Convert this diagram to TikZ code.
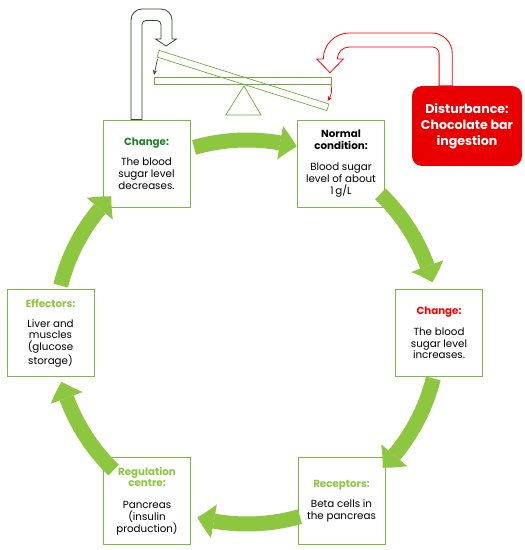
\documentclass[tikz,border=0pt]{standalone}
\usepackage{fontspec}
\setmainfont{Poppins}
\usetikzlibrary{arrows.meta,bending,calc}
\definecolor{boxgreen}{RGB}{122,182,72}
\definecolor{arrgreen}{RGB}{141,198,63}
\definecolor{ltgreen}{RGB}{141,198,63}
\definecolor{dkgreen}{RGB}{30,128,40}
\definecolor{pipedark}{RGB}{55,70,40}
\definecolor{distred}{RGB}{232,0,0}
\definecolor{txtred}{RGB}{255,0,0}
\definecolor{sawgreen}{RGB}{110,170,60}
\tikzset{
  box/.style={draw=boxgreen, line width=0.8pt, minimum width=87pt, minimum height=87pt,
    inner sep=0pt, align=center, font=\fontsize{10.3}{11.8}\selectfont},
  garrow/.style={draw=arrgreen, line width=15pt, line cap=butt,
    -{Triangle[width=34pt,length=17pt,line width=0pt,bend]}},
  pipe/.style={line width=0.8pt, fill=white},
  saw/.style={draw=sawgreen, line width=0.7pt},
  distbox/.style={fill=distred, rounded corners=10pt, minimum width=110pt, minimum height=80pt,
    inner sep=0pt, align=center, text=white, font=\fontsize{12.6}{16}\selectfont\bfseries}
}
\begin{document}
\begin{tikzpicture}[x=1pt,y=1pt]
\useasboundingbox (0,0) rectangle (525,550);
\fill[white] (0,0) rectangle (525,550);

% boxes
\node[box] (chgL) at (146.5,386.5) {\textcolor{dkgreen}{\bfseries Change:}\\[9pt]The blood\\sugar level\\decreases.};
\node[box] (normal) at (341,386.5) {{\bfseries Normal}\\{\bfseries condition:}\\[10pt]Blood sugar\\level of about\\1\,g/L};
\node[box] (chgR) at (439,217) {\textcolor{txtred}{\bfseries Change:}\\[9pt]The blood\\sugar level\\increases.};
\node[box] (eff) at (50.5,217) {\textcolor{ltgreen}{\bfseries Effectors:}\\[8pt]Liver and\\muscles\\(glucose\\storage)};
\node[box] (reg) at (147,49) {\textcolor{ltgreen}{\bfseries Regulation}\\\textcolor{ltgreen}{\bfseries centre:}\\[10pt]Pancreas\\(insulin\\production)};
\node[box] (rec) at (341.5,49) {\textcolor{ltgreen}{\bfseries Receptors:}\\[8pt]Beta cells in\\the pancreas};
\node[distbox] (dist) at (467,424) {Disturbance:\\Chocolate bar\\ingestion};

% cycle arrows
\coordinate (C) at (247,218);
\foreach \c [evaluate=\c as \a using \c+16, evaluate=\c as \b using \c-15] in {90,30,-30,-90,-150,150}
  \draw[garrow] ($(C)+(\a:192)$) arc[start angle=\a, end angle=\b, radius=192];

% seesaw
\coordinate (piv) at (243,469.5);
\draw[saw] ($(piv)+(-88.5,-3.5)$) rectangle ($(piv)+(88.5,3.5)$);
\draw[saw, rotate around={-17.5:(piv)}] ($(piv)+(-89,-3.5)$) rectangle ($(piv)+(89,3.5)$);
\draw[saw] (244,464) -- (225.7,435) -- (261,435) -- cycle;

% small rotation arrows
\coordinate (tl) at (157.5,491);
\coordinate (hl) at (154,475);
\draw[pipedark, line width=0.7pt, -{Stealth[length=5pt,width=4pt]}] (tl) -- (hl);
\coordinate (hr) at (331,465);
\coordinate (tr) at (327.5,449);
\draw[txtred, line width=0.7pt, -{Stealth[length=5pt,width=4pt]}] (hr) to[bend left=25] (tr);

% dark feedback pipe from chgL to seesaw
\draw[pipe, draw=pipedark] ($(chgL.north)+(-15.5,0)$) -- (131,530) arc[start angle=180, end angle=90, radius=11]
  -- (161,541) arc[start angle=90, end angle=0, radius=11]
  -- (172,511) -- (176.5,511) -- (166,504) -- (155.5,511) -- (161,511)
  -- (161,525.5) arc[start angle=0, end angle=90, radius=4]
  -- (146,529.5) arc[start angle=90, end angle=180, radius=4]
  -- ($(chgL.north)+(-4.5,0)$) -- cycle;

% red disturbance pipe
\draw[pipe, draw=txtred] ($(dist.north)+(-14.7,0)$) -- (452.3,496.5) arc[start angle=0, end angle=90, radius=20.5]
  -- (349.3,517) arc[start angle=90, end angle=180, radius=26]
  -- (316.7,491) -- (330,477.3) -- (343.3,491) -- (337.3,491)
  arc[start angle=180, end angle=90, radius=12]
  -- (432.3,503) arc[start angle=90, end angle=0, radius=6.8]
  -- ($(dist.north)+(-27.9,0)$) -- cycle;
\end{tikzpicture}
\end{document}
